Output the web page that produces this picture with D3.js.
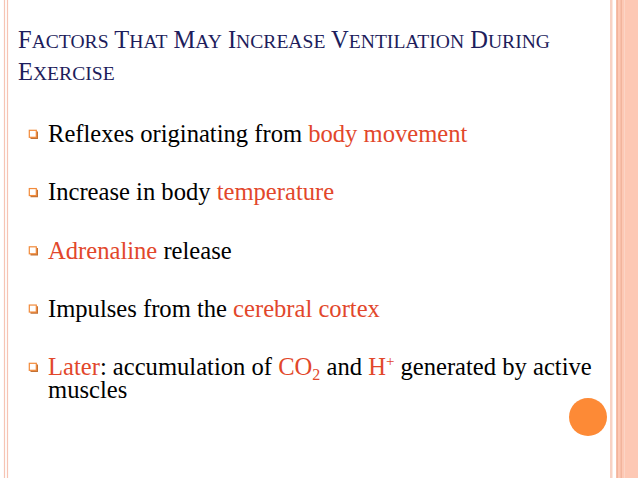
<!DOCTYPE html>
<html>
<head>
<meta charset="utf-8">
<script src="https://cdn.jsdelivr.net/npm/d3@7"></script>
<style>
  html, body { margin: 0; padding: 0; background: #fff; }
  svg { display: block; }
</style>
</head>
<body>
<div id="slide"></div>
<script>
'use strict';

var width = 638,
    height = 478;

// title, one entry per line, words are rendered as small caps
var title_lines = [
    'Factors That May Increase Ventilation During',
    'Exercise'
];

// bullet rows: [text, style] where style is n (normal), r (red), sub, sup
var bullet_rows = [
    [['Reflexes originating from ', 'n'], ['body movement', 'r']],
    [['Increase in body ', 'n'], ['temperature', 'r']],
    [['Adrenaline', 'r'], [' release', 'n']],
    [['Impulses from the ', 'n'], ['cerebral cortex', 'r']],
    [['Later', 'r'], [': accumulation of ', 'n'], ['CO', 'r'], ['2', 'sub'], [' and ', 'n'],
     ['H', 'r'], ['+', 'sup'], [' generated by active', 'n']]
];
var continuation = ['muscles'];

var title_color = '#1d1d5c',
    red = '#e2472b',
    orange = '#f28a3a',
    pink = '#f6c4b4';

var svg = d3.select('#slide').append('svg')
    .attr('width', width)
    .attr('height', height);

svg.append('rect')
    .attr('width', width)
    .attr('height', height)
    .attr('fill', '#fff');

// left border, two thin lines
[4.5, 7.5].forEach(function(x) {
    svg.append('line')
        .attr('x1', x).attr('x2', x)
        .attr('y1', 0).attr('y2', height)
        .attr('stroke', pink)
        .attr('stroke-width', 1.2);
});

// right border stripes
var stripes = [
    {x: 610, w: 2.5, c: '#f8d2c4'},
    {x: 616, w: 22, c: '#fdc8b4'},
    {x: 616.5, w: 1.5, c: '#f2b49c'},
    {x: 620.5, w: 1.5, c: '#f2b49c'},
    {x: 624, w: 1, c: '#fbd5c6'}
];
svg.append('g').selectAll('rect').data(stripes)
    .enter().append('rect')
    .attr('x', function(d) { return d.x; })
    .attr('y', 0)
    .attr('width', function(d) { return d.w; })
    .attr('height', height)
    .attr('fill', function(d) { return d.c; });

// title in small caps
var title = svg.append('text')
    .attr('font-family', '"Liberation Serif", "Times New Roman", serif')
    .attr('fill', title_color);

title_lines.forEach(function(line, i) {
    var t = title.append('tspan')
        .attr('x', 18)
        .attr('y', 47.5 + i * 32);
    line.split(' ').forEach(function(word, j) {
        t.append('tspan')
            .attr('font-size', 24.5)
            .text((j > 0 ? ' ' : '') + word.charAt(0).toUpperCase());
        t.append('tspan')
            .attr('font-size', 19.6)
            .text(word.slice(1).toUpperCase());
    });
});

// bullets
var row_y = d3.scalePoint()
    .domain(d3.range(bullet_rows.length))
    .range([142, 375]);

var body = svg.append('g')
    .attr('font-family', '"Liberation Serif", "Times New Roman", serif')
    .attr('font-size', 24.6);

bullet_rows.forEach(function(row, i) {
    var y = row_y(i);

    // shadowed box bullet
    body.append('rect')
        .attr('x', 30.5).attr('y', y - 10.5)
        .attr('width', 7.5).attr('height', 7.5)
        .attr('fill', '#c27236');
    body.append('rect')
        .attr('x', 29.3).attr('y', y - 11.7)
        .attr('width', 7).attr('height', 7)
        .attr('fill', '#fff')
        .attr('stroke', orange)
        .attr('stroke-width', 1.2);

    var t = body.append('text')
        .attr('x', 48)
        .attr('y', y);

    row.forEach(function(seg) {
        var s = t.append('tspan')
            .attr('fill', seg[1] === 'n' ? '#000' : red)
            .text(seg[0]);
        if (seg[1] === 'sub') {
            s.attr('font-size', 16).attr('dy', 5);
        } else if (seg[1] === 'sup') {
            s.attr('font-size', 15).attr('dy', -9.5);
        }
        // reset baseline after a shifted piece
        if (seg[1] === 'sub' || seg[1] === 'sup') {
            s.attr('data-shift', seg[1] === 'sub' ? -5 : 9.5);
        } else {
            var prev = s.node().previousSibling;
            if (prev && prev.getAttribute('data-shift')) {
                s.attr('dy', +prev.getAttribute('data-shift'));
            }
        }
    });
});

continuation.forEach(function(line, i) {
    body.append('text')
        .attr('x', 48)
        .attr('y', row_y(bullet_rows.length - 1) + 23 * (i + 1))
        .attr('fill', '#000')
        .text(line);
});

// orange circle near bottom right
svg.append('circle')
    .attr('cx', 588)
    .attr('cy', 417)
    .attr('r', 19)
    .attr('fill', '#fd8a36');
</script>
</body>
</html>
